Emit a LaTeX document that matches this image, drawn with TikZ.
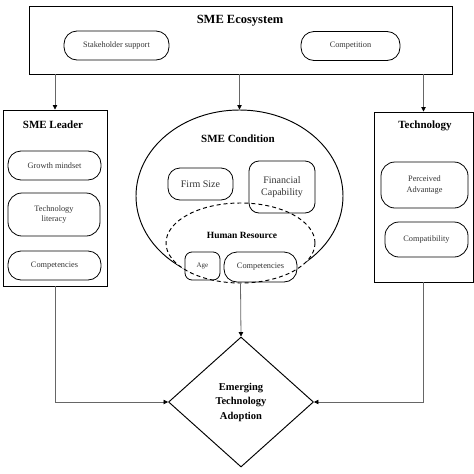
\documentclass[tikz,border=0pt]{standalone}
\usepackage{fontspec}
\setmainfont{Liberation Serif}
\usetikzlibrary{shapes.geometric,arrows.meta}
\begin{document}
\begin{tikzpicture}[x=1pt,y=-1pt,
  bigbox/.style={draw, line width=0.95pt, inner sep=0pt},
  pill/.style={draw, line width=0.8pt, rounded corners=13pt, inner sep=0pt, align=center, text=black!80},
  title/.style={font=\bfseries\fontsize{11}{13}\selectfont, inner sep=0pt},
  conn/.style={draw=black!60, line width=0.8pt},
  arr/.style={conn, -{Triangle[length=4.5pt,width=4.5pt,color=black]}},
  f85/.style={font=\fontsize{8.3}{10.5}\selectfont},
  f10/.style={font=\fontsize{10}{12.5}\selectfont}
]
\useasboundingbox (0,0) rectangle (474,474);

% SME Ecosystem
\node[bigbox, minimum width=423pt, minimum height=68pt] (eco) at (240.5,40) {};
\node[title, font=\bfseries\fontsize{12.5}{14}\selectfont] (ecot) at (240,21) {SME Ecosystem};
\node[pill, f85, minimum width=105pt, minimum height=29pt] (stake) at (116.5,45.5) {Stakeholder support};
\node[pill, f85, minimum width=99pt, minimum height=29pt] (comp) at (350.5,46) {Competition};

% SME Leader
\node[bigbox, minimum width=104pt, minimum height=176pt] (lead) at (55,198) {};
\node[title] (leadt) at (53,125) {SME Leader};
\node[pill, f85, minimum width=93pt, minimum height=29pt] (grow) at (54.5,165.5) {Growth mindset};
\node[pill, f85, minimum width=92pt, minimum height=43pt, rounded corners=14pt] (tlit) at (54,214.5) {Technology\\literacy};
\node[pill, f85, minimum width=93pt, minimum height=29pt] (lcomp) at (54.5,265.5) {Competencies};

% SME Condition
\node[draw, ellipse, line width=0.95pt, minimum width=207pt, minimum height=172pt, inner sep=0pt] (cond) at (239.5,196) {};
\node[draw, dashed, ellipse, fill=white, line width=0.95pt, dash pattern=on 4pt off 3pt, minimum width=149pt, minimum height=80pt, inner sep=0pt] (hr) at (240.5,243) {};
\node[title] (condt) at (238,139) {SME Condition};
\node[pill, f10, minimum width=65pt, minimum height=32pt, rounded corners=12pt] (firm) at (200.5,184) {Firm Size};
\node[pill, f10, minimum width=66pt, minimum height=52pt, rounded corners=10pt] (fin) at (282,187) {Financial\\Capability};
\node[title, font=\bfseries\fontsize{9.5}{11}\selectfont] (hrt) at (242,235) {Human Resource};
\node[pill, font=\fontsize{7}{8}\selectfont, minimum width=35pt, minimum height=28pt, rounded corners=7pt] (age) at (202.5,266) {Age};
\node[pill, f85, minimum width=73pt, minimum height=30pt] (hcomp) at (260.5,267) {Competencies};

% Technology
\node[bigbox, minimum width=99pt, minimum height=170pt] (tech) at (423.5,197) {};
\node[title] (techt) at (425,126) {Technology};
\node[pill, f85, minimum width=87pt, minimum height=46pt, rounded corners=14pt] (perc) at (424.5,185) {Perceived\\Advantage};
\node[pill, f85, minimum width=83pt, minimum height=35pt, rounded corners=14pt] (compat) at (426.5,239.5) {Compatibility};

% Emerging Technology Adoption
\node[draw, diamond, line width=0.95pt, minimum width=145pt, minimum height=130pt, inner sep=0pt, align=center,
      font=\bfseries\fontsize{10.5}{14.5}\selectfont] (eta) at (241,402) {Emerging\\Technology\\Adoption};

% connectors
\draw[arr] (eco.south -| lead.north) -- (lead.north);
\draw[arr] (eco.south -| cond.north) -- (cond.north);
\draw[arr] (eco.south -| tech.north) -- (tech.north);
\draw[arr] (hr.south) -- (eta.north);
\draw[arr] (lead.south) |- (eta.west);
\draw[arr] (tech.south) |- (eta.east);
\end{tikzpicture}
\end{document}
